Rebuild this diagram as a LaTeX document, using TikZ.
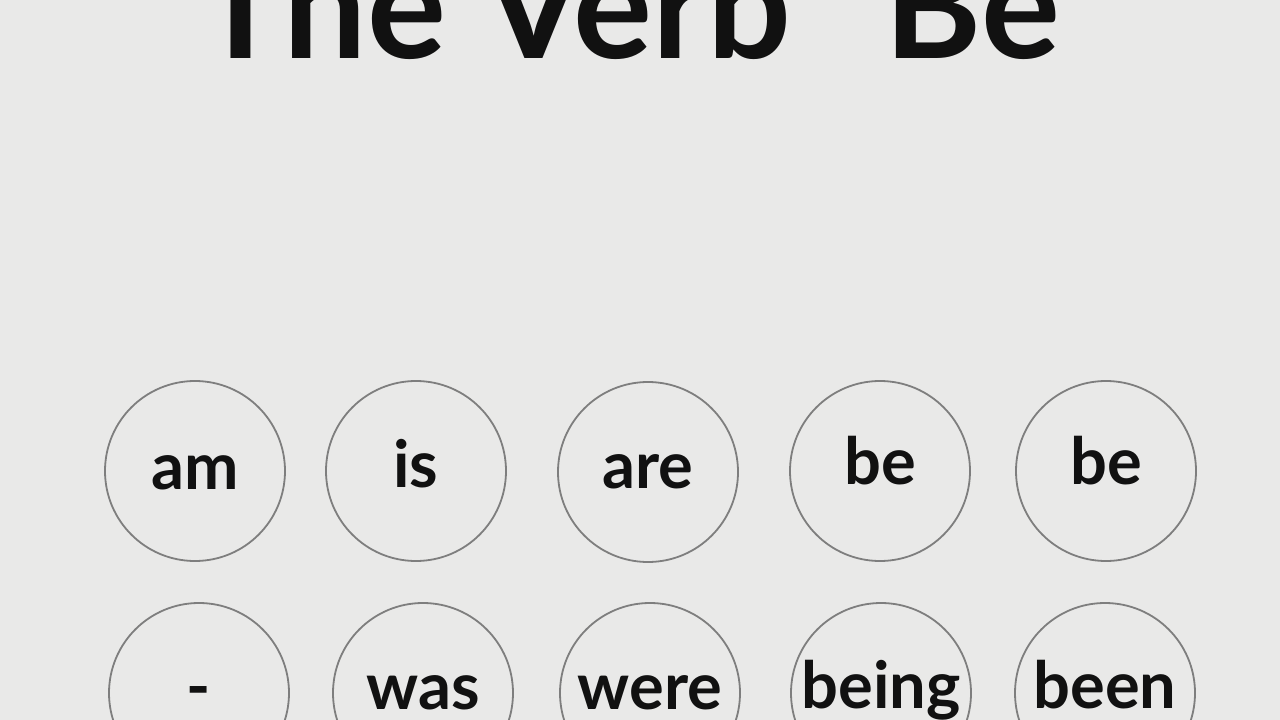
\documentclass[tikz,border=0pt]{standalone}
\usepackage{fontspec}
\setmainfont{Lato}
\definecolor{bg}{HTML}{E9E9E8}
\definecolor{ring}{HTML}{7E7E7E}
\definecolor{ink}{HTML}{111111}
\begin{document}
\begin{tikzpicture}[x=1pt,y=-1pt,
  ring/.style={circle,draw=ring,line width=1.8pt,minimum size=180pt,inner sep=0pt},
  word/.style={anchor=base,font=\fontsize{65}{65}\selectfont\bfseries,text=ink,inner sep=0pt}]
\useasboundingbox (0,0) rectangle (1280,720);
\fill[bg] (0,0) rectangle (1280,720);
\node[anchor=base west,inner sep=0pt,text=ink,font=\fontsize{148}{148}\selectfont\bfseries] (title) at (196,58) {The Verb “Be”};
% row 1
\node[ring] (c1) at (195,471) {};
\node[ring] (c2) at (416,471) {};
\node[ring] (c3) at (648,472) {};
\node[ring] (c4) at (880,471) {};
\node[ring] (c5) at (1106,471) {};
% row 2
\node[ring] (d1) at (199,693) {};
\node[ring] (d2) at (423,693) {};
\node[ring] (d3) at (650,693) {};
\node[ring] (d4) at (881,693) {};
\node[ring] (d5) at (1105,693) {};
\node[word] (w1) at ([yshift=-18pt]c1.center) {am};
\node[word] (w2) at ([yshift=-16pt]c2.center) {is};
\node[word] (w3) at ([yshift=-16pt]c3.center) {are};
\node[word] (w4) at ([yshift=-13pt]c4.center) {be};
\node[word] (w5) at ([yshift=-13pt]c5.center) {be};
\node[word] (v1) at ([yshift=-16pt]d1.center) {-};
\node[word] (v2) at ([yshift=-16pt]d2.center) {was};
\node[word] (v3) at ([yshift=-16pt]d3.center) {were};
\node[word] (v4) at ([yshift=-15pt]d4.center) {being};
\node[word] (v5) at ([yshift=-15pt]d5.center) {been};
\end{tikzpicture}
\end{document}
